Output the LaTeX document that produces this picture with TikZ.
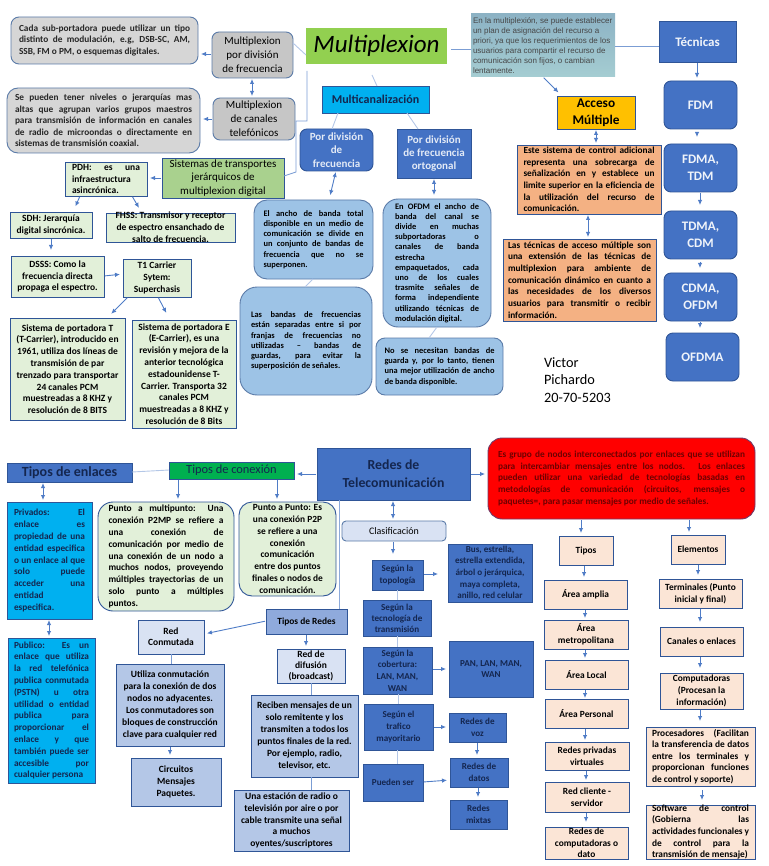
\documentclass[tikz,border=0pt]{standalone}
\usepackage{fontspec}
\setmainfont{Carlito}
\newfontfamily\arialf{Liberation Sans}
\usetikzlibrary{arrows.meta}
\definecolor{bdr}{HTML}{2F5597}
\definecolor{bdg}{HTML}{5B7BA8}
\definecolor{blu}{HTML}{4472C4}
\definecolor{navy}{HTML}{14264F}
\definecolor{lite}{HTML}{B4C7E7}
\definecolor{wire}{HTML}{4F7CC6}
\newcommand{\szf}[2]{\fontsize{#1}{#2}\selectfont}
\newcommand{\lnj}[1]{\hbox to \hsize{\spaceskip=.17em plus 1fil\relax #1}}
\newcommand{\lne}[1]{\hbox to \hsize{#1\hfil}}
\newcommand{\lnc}[1]{\hbox to \hsize{\hss #1\hss}}
\newcommand{\bx}[7]{%
 \pgfmathsetmacro\bxw{#5-#3}\pgfmathsetmacro\bxh{#6-#4}%
 \pgfmathsetmacro\bxcx{(#3+#5)/2}\pgfmathsetmacro\bxcy{(#4+#6)/2}%
 \node[#1,minimum width=\bxw pt,minimum height=\bxh pt,inner sep=0pt,outer sep=0pt] (#2) at (\bxcx,\bxcy)
 {\vbox to \bxh pt{\hsize=\dimexpr\bxw pt-\bxpad-\bxpad\relax\parindent=0pt\vss #7\vss}};}
\tikzset{
 pad/.store in=\bxpad, pad=5pt,
 base/.style={draw=bdr,line width=.9pt},
 gray1/.style={base,draw=bdg,fill=gray!32,rounded corners=8pt,font=\szf{9.3}{11.6}\bfseries,text=black!85},
 gray2/.style={base,draw=bdg,fill=gray!45,rounded corners=7pt,font=\szf{11}{14}},
 title/.style={fill={rgb,255:red,146;green,208;blue,80},font=\szf{25}{26}\itshape},
 cyanbox/.style={base,fill={rgb,255:red,0;green,176;blue,240},font=\szf{12}{14}\bfseries,text=navy},
 bluer/.style={base,fill=blu,rounded corners=7pt,text=white!85!blu,font=\szf{11}{13.4}\bfseries},
 blues/.style={base,fill=blu,text=white!85!blu,font=\szf{11}{13.4}\bfseries},
 grn/.style={base,fill={rgb,255:red,169;green,209;blue,142},font=\szf{11}{13.6}},
 pale/.style={base,fill={rgb,255:red,226;green,240;blue,217},font=\szf{9.5}{11.8}\bfseries},
 sky/.style={base,draw=bdg,fill={rgb,255:red,157;green,195;blue,230},rounded corners=13pt,font=\szf{8.4}{10.2}\bfseries},
 tech/.style={blues,font=\szf{13}{17}\bfseries,text=white!92!blu},
 techr/.style={bluer,font=\szf{13}{17}\bfseries,text=white!92!blu},
 acc/.style={base,fill={rgb,255:red,255;green,192;blue,0},font=\szf{13.3}{17}\bfseries},
 org/.style={base,fill={rgb,255:red,244;green,177;blue,131},font=\szf{9.3}{11.7}\bfseries},
 info/.style={top color={rgb,255:red,140;green,178;blue,196},bottom color={rgb,255:red,165;green,205;blue,210},text=black!72,font=\arialf\szf{8}{9.9}},
 blowhead/.style={blues,text=navy,font=\szf{14}{18}\bfseries},
 grnhead/.style={base,fill={rgb,255:red,0;green,176;blue,80},text=navy,font=\szf{12.4}{14}},
 cyn/.style={base,fill={rgb,255:red,0;green,176;blue,240},text=navy,font=\szf{9.3}{11.8}\bfseries},
 palr/.style={pale,rounded corners=13pt,font=\szf{9.4}{11.9}\bfseries},
 redb/.style={draw=bdr!70!red,line width=.9pt,fill=red,rounded corners=14pt,text={rgb,255:red,110;green,0;blue,0},font=\szf{9.3}{11.7}\bfseries},
 clas/.style={base,draw=bdg,fill={rgb,255:red,217;green,226;blue,243},rounded corners=4pt,font=\szf{10}{12}},
 tiposr/.style={base,fill={rgb,255:red,143;green,170;blue,220},font=\szf{9.4}{11}\bfseries},
 lav/.style={base,fill={rgb,255:red,217;green,226;blue,243},font=\szf{9.5}{11.3}\bfseries},
 lavd/.style={base,fill={rgb,255:red,180;green,199;blue,231},font=\szf{9.5}{11.9}\bfseries},
 blk/.style={base,fill=blu,text=navy,font=\szf{9.1}{11.7}\bfseries},
 peach/.style={base,fill={rgb,255:red,251;green,229;blue,214},font=\szf{9.4}{11.6}\bfseries},
 arr/.style={-{Latex[length=5pt,width=4.5pt]},draw=wire,line width=.9pt,shorten <=1pt,shorten >=3pt},
 dbl/.style={{Latex[length=5pt,width=4.5pt]}-{Latex[length=5pt,width=4.5pt]},draw=wire,line width=.9pt,shorten <=1pt,shorten >=2pt},
 lin/.style={draw=wire!75!white,line width=.9pt},
 pal/.style={draw=lite,line width=.9pt}
}
\begin{document}
\begin{tikzpicture}[x=1pt,y=-1pt]
\useasboundingbox (0,0) rectangle (768,866);
% ---- upper part
\bx{gray1,pad=8pt}{a1}{11}{17}{198}{64}{\lnj{Cada sub-portadora puede utilizar un tipo}\lnj{distinto de modulación, e.g, DSB-SC, AM,}\lne{SSB, FM o PM, o esquemas digitales.}}
\bx{gray2}{mpf}{212}{32}{293}{78}{\lnc{Multiplexion}\lnc{por división}\lnc{de frecuencia}}
\bx{gray2}{mct}{213}{98}{295}{140}{\lnc{Multiplexion}\lnc{de canales}\lnc{telefónicos}}
\bx{gray1,pad=8pt,rounded corners=11pt,font=\szf{9.3}{11.4}\bfseries}{a2}{7}{88}{200}{153}{\lnj{Se pueden tener niveles o jerarquías mas}\lnj{altas que agrupan varios grupos maestros}\lnj{para transmisión de información en canales}\lnj{de radio de microondas o directamente en}\lne{sistemas de transmisión coaxial.}}
\bx{title}{tit}{306}{28}{447}{64}{\lnc{Multiplexion}}
\bx{cyanbox}{mc}{322}{86}{429}{113}{\lnc{Multicanalización}}
\bx{bluer}{pdf}{300}{129}{373}{171}{\lnc{Por división}\lnc{de}\lnc{frecuencia}}
\bx{blues}{pdo}{397}{129}{471}{178}{\lnc{Por división}\lnc{de frecuencia}\lnc{ortogonal}}
\bx{grn}{sis}{162}{158}{284}{198}{\lnc{Sistemas de transportes}\lnc{jerárquicos de}\lnc{multiplexion digital}}
\bx{pale,pad=7pt}{pdh}{65}{162}{147}{196}{\lnj{PDH: es una}\lne{infraestructura}\lne{asincrónica.}}
\bx{pale}{sdh}{10}{212}{92}{238}{\lnc{SDH: Jerarquía}\lnc{digital sincrónica.}}
\bx{pale}{fhss}{106}{213}{235}{242}{\lnc{FHSS: Transmisor y receptor}\lnc{de espectro ensanchado de}\lnc{salto de frecuencia.}}
\bx{pale,pad=2pt}{dsss}{11}{256}{104}{297}{\lnc{DSSS: Como la}\lnc{frecuencia directa}\lnc{propaga el espectro.}}
\bx{pale}{t1}{123}{259}{191}{297}{\lnc{T1 Carrier}\lnc{Sytem:}\lnc{Superchasis}}
\bx{pale,pad=2pt}{tc}{10}{318}{125}{420}{\lnc{Sistema de portadora T}\lnc{(T-Carrier), introducido en}\lnc{1961, utiliza dos líneas de}\lnc{transmisión de par}\lnc{trenzado para transportar}\lnc{24 canales PCM}\lnc{muestreadas a 8 KHZ y}\lnc{resolución de 8 BITS}}
\bx{pale,pad=2pt}{ec}{132}{320}{236}{428}{\lnc{Sistema de portadora E}\lnc{(E-Carrier), es una}\lnc{revisión y mejora de la}\lnc{anterior tecnológica}\lnc{estadounidense T-}\lnc{Carrier. Transporta 32}\lnc{canales PCM}\lnc{muestreadas a 8 KHZ y}\lnc{resolución de 8 Bits}}
\bx{sky,pad=9.5pt}{s1}{254}{200}{373}{279}{\lnj{El ancho de banda total}\lnj{disponible en un medio de}\lnj{comunicación se divide en}\lnj{un conjunto de bandas de}\lnj{frecuencia que no se}\lne{superponen.}}
\bx{sky,pad=11pt,rounded corners=17pt}{s2}{240}{287}{372}{395}{\lnj{Las bandas de frecuencias}\lnj{están separadas entre si por}\lnj{franjas de frecuencias no}\lnj{utilizadas – bandas de}\lnj{guardas, para evitar la}\lne{superposición de señales.}}
\bx{sky,pad=12pt,rounded corners=15pt}{s3}{383}{199}{491}{327}{\lnj{En OFDM el ancho de}\lnj{banda del canal se}\lnj{divide en muchas}\lnj{subportadoras o}\lnj{canales de banda}\lne{estrecha}\lnj{empaquetados, cada}\lnj{uno de los cuales}\lnj{trasmite señales de}\lnj{forma independiente}\lnj{utilizando técnicas de}\lne{modulación digital.}}
\bx{sky,pad=8.5pt,rounded corners=9pt}{s4}{376}{338}{503}{395}{\lnj{No se necesitan bandas de}\lnj{guarda y, por lo tanto, tienen}\lnj{una mejor utilización de ancho}\lne{de banda disponible.}}
\bx{info,pad=2pt}{inf}{471}{14}{615}{77}{\lne{En la multiplexión, se puede establecer}\lne{un plan de asignación del recurso a}\lne{priori, ya que los requerimientos de los}\lne{usuarios para compartir el recurso de}\lne{comunicación son fijos, o cambian}\lne{lentamente.}}
\bx{tech}{tec}{659}{21}{736}{62}{\lnc{Técnicas}}
\bx{techr}{fdm}{664}{81}{737}{129}{\lnc{FDM}}
\bx{techr}{fdma}{664}{144}{737}{192}{\lnc{FDMA,}\lnc{TDM}}
\bx{techr}{tdma}{664}{211}{737}{259}{\lnc{TDMA,}\lnc{CDM}}
\bx{techr}{cdma}{664}{273}{737}{321}{\lnc{CDMA,}\lnc{OFDM}}
\bx{techr}{ofdma}{666}{333}{739}{381}{\lnc{OFDMA}}
\bx{acc}{ac}{557}{96}{635}{129}{\lnc{Acceso}\lnc{Múltiple}}
\bx{org,pad=6.5pt}{este}{517}{145}{661}{214}{\lnj{Este sistema de control adicional}\lnj{representa una sobrecarga de}\lnj{señalización en y establece un}\lnj{limite superior en la eficiencia de}\lnj{la utilización del recurso de}\lne{comunicación.}}
\bx{org,pad=5pt}{tecn}{503}{239}{656}{321}{\lnj{Las técnicas de acceso múltiple son}\lnj{una extensión de las técnicas de}\lnj{multiplexion para ambiente de}\lnj{comunicación dinámico en cuanto a}\lnj{las necesidades de los diversos}\lnj{usuarios para transmitir o recibir}\lne{información.}}
\bx{font=\szf{14.3}{17.3},pad=0pt}{vic}{544}{353}{630}{407}{\lne{Victor}\lne{Pichardo}\lne{20-70-5203}}
% connectors upper
\draw[arr] (mpf.west |- 0,54) -- (a1.east |- 0,54);
\draw[dbl] (252,0 |- mpf.south) -- (252,0 |- mct.north);
\draw[arr] (mct.west |- 0,119) -- (a2.east |- 0,119);
\draw[arr] (sis.west |- 0,178) -- (pdh.east |- 0,178);
\draw[arr,shorten >=6pt] (80,0 |- pdh.south) -- (73,0 |- sdh.north);
\draw[arr,shorten >=6pt] (132,0 |- pdh.south) -- (142,0 |- fhss.north);
\draw[arr,shorten >=6pt] (51,0 |- sdh.south) -- (51,0 |- dsss.north);
\draw[arr] (dsss.east |- 0,276) -- (t1.west |- 0,274);
\draw[arr,shorten >=6pt] (128,0 |- t1.south) -- (107,0 |- tc.north);
\draw[arr,shorten >=8pt] (158,0 |- t1.south) -- (170,0 |- ec.north);
\draw[pal] (mpf.east |- 0,43) -- (tit.west |- 0,55);
\draw[lin] (sis.east |- 0,176) -- (296,172) -- (296,121) -- (307,121) -- (307,71);
\draw[pal] (372,75) -- (377,0 |- mc.north);
\draw[pal] (338,0 |- mc.south) -- (332,0 |- pdf.north);
\draw[pal] (407,0 |- mc.south) -- (418,0 |- pdo.north);
\draw[dbl,shorten >=5pt] (336,0 |- pdf.south) -- (329,0 |- s1.north);
\draw[dbl,shorten >=4pt] (434,0 |- pdo.south) -- (434,0 |- s3.north);
\draw[pal] (313,0 |- s1.south) -- (305,0 |- s2.north);
\draw[pal] (437,0 |- s3.south) -- (429,0 |- s4.north);
\draw[lin,shorten <=4pt] (tit.east |- 0,49) -- (inf.west |- 0,49);
\draw[lin] (inf.east |- 0,46) -- (tec.west |- 0,46);
\draw[arr,shorten >=5pt] (543,0 |- inf.south) -- (562,0 |- ac.north);
\draw[dbl] (596,0 |- ac.south) -- (596,0 |- este.north);
\draw[dbl] (588,0 |- este.south) -- (588,0 |- tecn.north);
\draw[arr] (697,0 |- tec.south) -- (697,0 |- fdm.north);
\draw[arr,shorten <=3pt,shorten >=7pt] (697,0 |- fdm.south) -- (697,0 |- fdma.north);
\draw[arr,shorten >=6pt] (700,0 |- fdma.south) -- (700,0 |- tdma.north);
\draw[arr,shorten <=3pt,shorten >=5pt] (700,0 |- tdma.south) -- (700,0 |- cdma.north);
\draw[arr,shorten <=1pt,shorten >=5pt] (700,0 |- cdma.south) -- (700,0 |- ofdma.north);
% ---- lower part
\bx{blowhead}{ten}{7}{463}{132}{482}{\lnc{Tipos de enlaces}}
\bx{grnhead}{tco}{169}{462}{294}{479}{\lnc{Tipos de conexión}}
\bx{cyn,pad=7pt}{prv}{7}{502}{92}{619}{\lnj{Privados: El}\lnj{enlace es}\lnj{propiedad de una}\lnj{entidad especifica}\lnj{o un enlace al que}\lnj{solo puede}\lnj{acceder una}\lne{entidad}\lne{especifica.}}
\bx{cyn,pad=6pt}{pub}{8}{638}{95}{783}{\lnj{Publico: Es un}\lnj{enlace que utiliza}\lnj{la red telefónica}\lnj{publica conmutada}\lnj{(PSTN) u otra}\lnj{utilidad o entidad}\lnj{publica para}\lnj{proporcionar el}\lnj{enlace y que}\lnj{también puede ser}\lnj{accesible por}\lne{cualquier persona}}
\bx{palr,pad=10.5pt,rounded corners=15pt}{p2m}{98}{502}{234}{611}{\lnj{Punto a multipunto: Una}\lnj{conexión P2MP se refiere a}\lnj{una conexión de}\lnj{comunicación por medio de}\lnj{una conexión de un nodo a}\lnj{muchos nodos, proveyendo}\lnj{múltiples trayectorias de un}\lnj{solo punto a múltiples}\lne{puntos.}}
\bx{palr,pad=4pt}{p2p}{239}{502}{336}{596}{\lnc{Punto a Punto: Es}\lnc{una conexión P2P}\lnc{se refiere a una}\lnc{conexión}\lnc{comunicación}\lnc{entre dos puntos}\lnc{finales o nodos de}\lnc{comunicación.}}
\bx{blowhead,font=\szf{13.8}{18}\bfseries}{rt}{317}{448}{470}{500}{\lnc{Redes de}\lnc{Telecomunicación}}
\bx{redb,pad=10pt}{def}{488}{438}{755}{519}{\lnj{Es grupo de nodos interconectados por enlaces que se utilizan}\lnj{para intercambiar mensajes entre los nodos. Los enlaces}\lnj{pueden utilizar una variedad de tecnologías basadas en}\lnj{metodologías de comunicación (circuitos, mensajes o}\lne{paquetes=, para pasar mensajes por medio de señales.}}
\bx{clas}{cla}{342}{521}{446}{541}{\lnc{Clasificación}}
\bx{blk}{stp}{372}{560}{423}{590}{\lnc{Según la}\lnc{topología}}
\bx{blk,pad=2pt}{bus}{448}{544}{532}{602}{\lnc{Bus, estrella,}\lnc{estrella extendida,}\lnc{árbol o jerárquica,}\lnc{maya completa,}\lnc{anillo, red celular}}
\bx{blk,pad=2pt,font=\szf{9.1}{11}\bfseries}{stc}{363}{600}{431}{636}{\lnc{Según la}\lnc{tecnología de}\lnc{transmisión}}
\bx{blk,pad=2pt}{scb}{363}{647}{432}{694}{\lnc{Según la}\lnc{cobertura:}\lnc{LAN, MAN,}\lnc{WAN}}
\bx{blk,pad=2pt,font=\szf{9.1}{11.2}\bfseries}{pan}{449}{641}{533}{697}{\lnc{PAN, LAN, MAN,}\lnc{WAN}}
\bx{blk,pad=2pt}{stf}{364}{704}{433}{750}{\lnc{Según el}\lnc{trafico}\lnc{mayoritario}}
\bx{blk,pad=2pt}{voz}{449}{713}{506}{742}{\lnc{Redes de}\lnc{voz}}
\bx{blk,pad=2pt}{dat}{450}{758}{508}{787}{\lnc{Redes de}\lnc{datos}}
\bx{blk,pad=2pt}{mix}{450}{800}{507}{829}{\lnc{Redes}\lnc{mixtas}}
\bx{blk,pad=2pt}{pue}{363}{764}{423}{801}{\lnc{Pueden ser}}
\bx{peach}{tip}{559}{536}{613}{565}{\lnc{Tipos}}
\bx{peach}{amp}{544}{580}{627}{609}{\lnc{Área amplia}}
\bx{peach}{met}{544}{620}{628}{649}{\lnc{Área}\lnc{metropolitana}}
\bx{peach}{loc}{545}{660}{628}{689}{\lnc{Área Local}}
\bx{peach}{per}{545}{699}{628}{728}{\lnc{Área Personal}}
\bx{peach}{vpn}{545}{742}{629}{770}{\lnc{Redes privadas}\lnc{virtuales}}
\bx{peach}{cli}{545}{782}{629}{812}{\lnc{Red cliente -}\lnc{servidor}}
\bx{peach,pad=2pt}{cmp}{545}{827}{628}{859}{\lnc{Redes de}\lnc{computadoras o}\lnc{dato}}
\bx{peach}{ele}{671}{535}{725}{564}{\lnc{Elementos}}
\bx{peach,pad=2pt}{ter}{659}{579}{742}{608}{\lnc{Terminales (Punto}\lnc{inicial y final)}}
\bx{peach}{can}{660}{627}{743}{656}{\lnc{Canales o enlaces}}
\bx{peach}{cpt}{660}{673}{743}{709}{\lnc{Computadoras}\lnc{(Procesan la}\lnc{información)}}
\bx{peach,pad=6pt}{pro}{646}{727}{755}{786}{\lnj{Procesadores (Facilitan}\lnj{la transferencia de datos}\lnj{entre los terminales y}\lnj{proporcionan funciones}\lne{de control y soporte)}}
\bx{peach,pad=6pt}{sof}{646}{805}{755}{859}{\lnj{Software de control}\lnj{(Gobierna las}\lnj{actividades funcionales y}\lnj{de control para la}\lne{transmisión de mensaje)}}
\bx{tiposr}{tre}{266}{609}{347}{634}{\lnc{Tipos de Redes}}
\bx{lav}{rco}{138}{620}{204}{654}{\lnc{Red}\lnc{Conmutada}}
\bx{lav}{rdi}{277}{649}{345}{683}{\lnc{Red de}\lnc{difusión}\lnc{(broadcast)}}
\bx{lavd,pad=2pt}{rec}{251}{695}{358}{777}{\lnc{Reciben mensajes de un}\lnc{solo remitente y los}\lnc{transmiten a todos los}\lnc{puntos finales de la red.}\lnc{Por ejemplo, radio,}\lnc{televisor, etc.}}
\bx{lavd,pad=2pt}{est}{234}{790}{349}{851}{\lnc{Una estación de radio o}\lnc{televisión por aire o por}\lnc{cable transmite una señal}\lnc{a muchos}\lnc{oyentes/suscriptores}}
\bx{lavd,pad=2pt}{uti}{116}{664}{224}{746}{\lnc{Utiliza conmutación}\lnc{para la conexión de dos}\lnc{nodos no adyacentes.}\lnc{Los conmutadores son}\lnc{bloques de construcción}\lnc{clave para cualquier red}}
\bx{lavd}{cir}{131}{758}{221}{806}{\lnc{Circuitos}\lnc{Mensajes}\lnc{Paquetes.}}
% connectors lower
\draw[pal] (tco.west |- 0,470) -- (ten.east |- 0,472);
\draw[arr] (rt.west |- 0,474) -- (tco.east |- 0,474);
\draw[dbl] (43,0 |- ten.south) -- (43,0 |- prv.north);
\draw[arr] (178,0 |- tco.south) -- (178,0 |- p2m.north);
\draw[arr] (277,0 |- tco.south) -- (277,0 |- p2p.north);
\draw[dbl] (49,0 |- prv.south) -- (49,0 |- pub.north);
\draw[arr] (rt.east |- 0,474) -- (def.west |- 0,474);
\draw[dbl] (393,0 |- rt.south) -- (393,0 |- cla.north);
\draw[arr,shorten >=6pt] (393,0 |- cla.south) -- (393,0 |- stp.north);
\draw[lin,draw=wire!65!white] (339,0 |- rt.south) -- (339,0 |- tre.north);
\draw[arr,shorten >=10pt] (stp.east |- 0,574) -- (bus.west |- 0,574);
\draw[pal] (397,0 |- stp.south) -- (397,0 |- stc.north);
\draw[pal] (397,0 |- stc.south) -- (397,0 |- scb.north);
\draw[arr] (scb.east |- 0,669) -- (pan.west |- 0,669);
\draw[pal] (398,0 |- scb.south) -- (398,0 |- stf.north);
\draw[arr] (stf.east |- 0,727) -- (voz.west |- 0,727);
\draw[pal] (397,0 |- stf.south) -- (397,0 |- pue.north);
\draw[arr] (pue.east |- 0,782) -- (dat.west |- 0,780);
\draw[arr] (477,0 |- voz.south) -- (477,0 |- dat.north);
\draw[arr] (478,0 |- dat.south) -- (478,0 |- mix.north);
\draw[arr] (tre.west |- 0,621) -- (rco.east |- 0,634);
\draw[arr] (306,0 |- tre.south) -- (306,0 |- rdi.north);
\draw[lin] (171,0 |- rco.south) -- (171,0 |- uti.north);
\draw[arr] (170,0 |- uti.south) -- (170,0 |- cir.north);
\draw[lin] (311,0 |- rdi.south) -- (311,0 |- rec.north);
\draw[lin] (311,0 |- rec.south) -- (311,0 |- est.north);
\draw[arr] (581,0 |- def.south) -- (581,0 |- tip.north);
\draw[arr] (689,0 |- def.south) -- (689,0 |- ele.north);
\draw[arr] (584,0 |- tip.south) -- (584,0 |- amp.north);
\draw[arr,shorten >=2pt] (585,0 |- amp.south) -- (585,0 |- met.north);
\draw[arr,shorten >=2pt] (585,0 |- met.south) -- (585,0 |- loc.north);
\draw[arr,shorten >=1pt] (585,0 |- loc.south) -- (585,0 |- per.north);
\draw[arr,shorten >=2pt] (585,0 |- per.south) -- (585,0 |- vpn.north);
\draw[arr,shorten >=2pt] (586,0 |- vpn.south) -- (586,0 |- cli.north);
\draw[arr,shorten >=5pt] (586,0 |- cli.south) -- (586,0 |- cmp.north);
\draw[arr,shorten >=4pt] (698,0 |- ele.south) -- (698,0 |- ter.north);
\draw[arr,shorten >=5pt] (700,0 |- ter.south) -- (700,0 |- can.north);
\draw[arr,shorten >=5pt] (700,0 |- can.south) -- (700,0 |- cpt.north);
\draw[arr,shorten >=6pt] (700,0 |- cpt.south) -- (700,0 |- pro.north);
\draw[arr,shorten <=4pt,shorten >=5pt] (702,0 |- pro.south) -- (702,0 |- sof.north);
\end{tikzpicture}
\end{document}
